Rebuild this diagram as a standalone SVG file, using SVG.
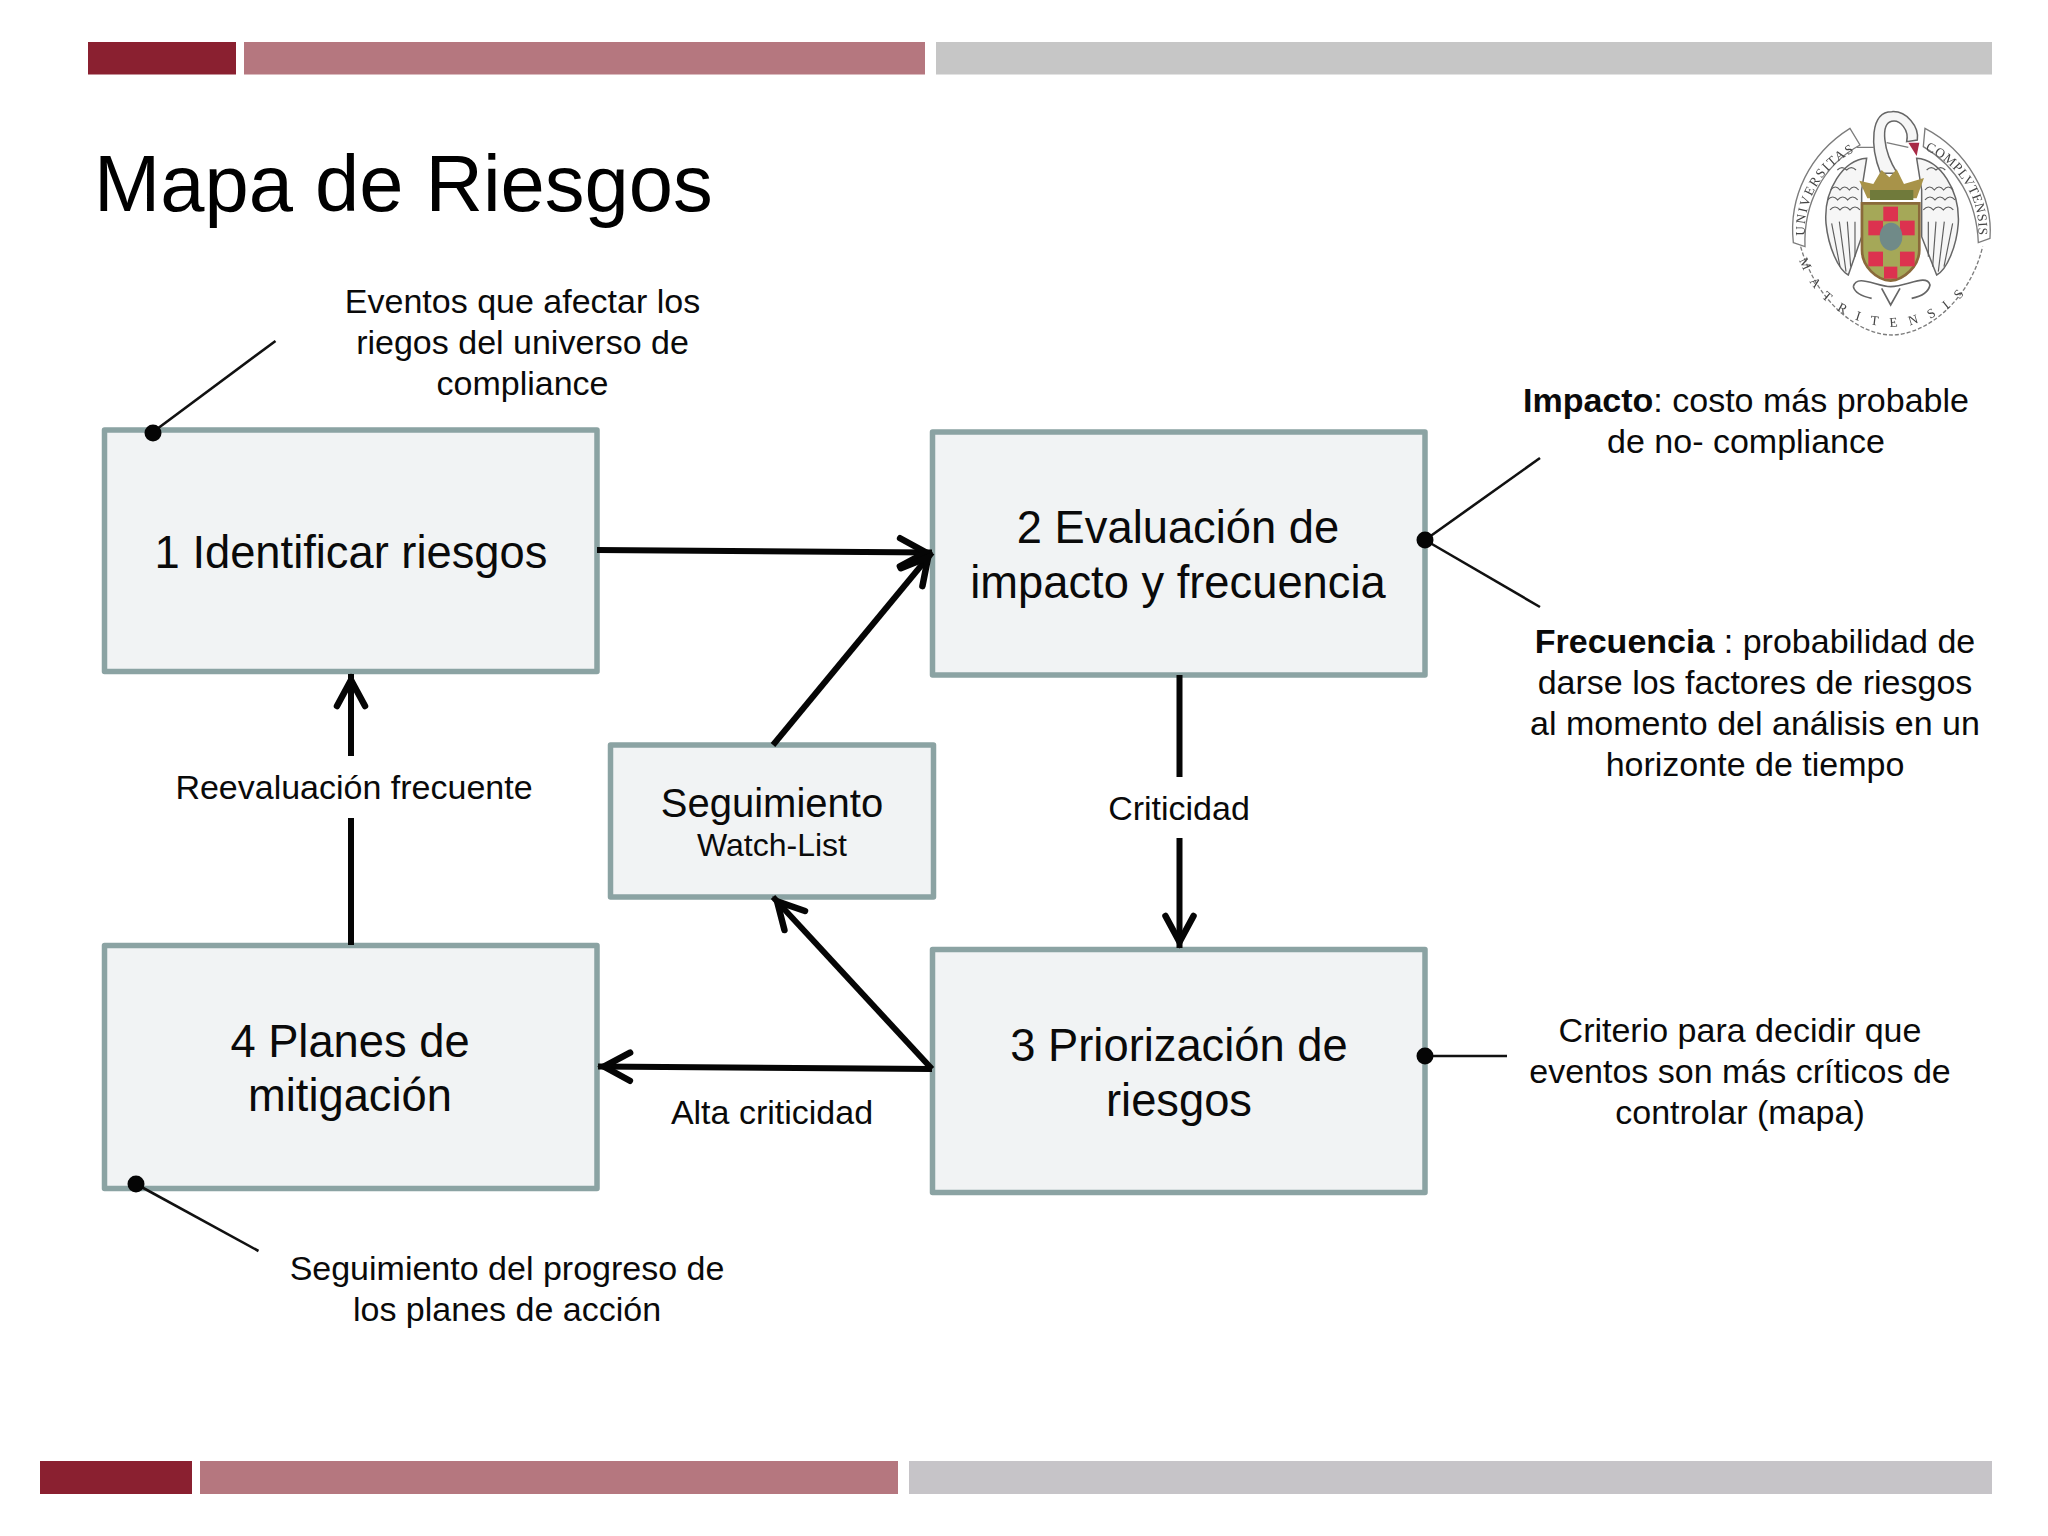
<svg xmlns="http://www.w3.org/2000/svg" width="2048" height="1536" viewBox="0 0 2048 1536">
<style>
text{font-family:"Liberation Sans",Arial,sans-serif;fill:#0a0a0a;text-anchor:middle}
.box{fill:#f1f3f4;stroke:#8ba3a3;stroke-width:5.5;stroke-linejoin:round}
.big{font-size:45.3px}.lab{font-size:34px}
.con{stroke:#050505;stroke-width:6;fill:none}
.lead{stroke:#111;stroke-width:2.6;fill:none}
.bg{fill:#fff}
.ln{fill:none;stroke:#7c7c7c;stroke-width:4}
.fe{fill:none;stroke:#5f5f5f;stroke-width:3.5}
.lt{font-family:"Liberation Serif",serif;font-size:40px;fill:#444;text-anchor:start}
.bird{fill:#f6f6f6;stroke:#666;stroke-width:4.5}
</style>
<defs>
<marker id="arr" markerUnits="userSpaceOnUse" markerWidth="40" markerHeight="40" refX="36" refY="20" orient="auto" overflow="visible">
<path d="M4 6 L30 20 L4 34" fill="none" stroke="#050505" stroke-width="6.5" stroke-linecap="round" stroke-linejoin="miter"/>
</marker>
<path id="arcL" d="M135 437 A260 260 0 0 1 300 178"/>
<path id="arcR" d="M495 180 A260 260 0 0 1 655 435"/>
<path id="arcB" d="M118 510 A292 292 0 0 0 672 510"/>
<filter id="soft" x="-5%" y="-5%" width="110%" height="110%"><feGaussianBlur stdDeviation="1.6"/></filter>
</defs>
<rect width="2048" height="1536" fill="#fff"/>
<g id="top-bar">
<rect x="88" y="42" width="148" height="32.5" fill="#8a2030"/>
<rect x="244" y="42" width="681" height="32.5" fill="#b5777f"/>
<rect x="936" y="42" width="1056" height="32.5" fill="#c6c6c6"/>
</g>
<g id="bottom-bar">
<rect x="40" y="1461" width="152" height="33" fill="#8a2030"/>
<rect x="200" y="1461" width="698" height="33" fill="#b5777f"/>
<rect x="909" y="1461" width="1083" height="33" fill="#c6c4c8"/>
</g>
<text id="title" x="94" y="211" style="text-anchor:start;font-size:79.5px;fill:#000">Mapa de Riesgos</text>
<g id="logo" transform="translate(1760 90) scale(.3333)" filter="url(#soft)">
<path class="ln" d="M100 458 L135 470 C130 340 190 225 300 165 L270 115 C150 190 85 320 100 458 Z"/>
<path class="ln" d="M690 445 L655 458 C650 330 590 230 490 170 L495 115 C620 180 700 320 690 445 Z"/>
<path class="ln" stroke-dasharray="12 6" d="M122 470 C170 640 300 735 395 735 C500 735 630 630 668 470"/>
<text class="lt" style="letter-spacing:5px"><textPath href="#arcL">UNIVERSITAS</textPath></text>
<text class="lt" style="letter-spacing:2px"><textPath href="#arcR">COMPLVTENSIS</textPath></text>
<text class="lt" style="letter-spacing:35px"><textPath href="#arcB">MATRITENSIS</textPath></text>
<path class="bird" d="M362 250 C330 170 330 65 395 65 C440 62 478 110 472 150 L440 155 C448 120 420 88 395 94 C362 102 368 180 412 250 Z"/>
<path class="ln" d="M290 172 L345 172 M380 158 L445 172"/>
<path d="M445 158 L478 158 L470 198 Z" fill="#a82a45"/>
<path class="bird" d="M320 205 C250 210 190 300 198 400 C205 470 235 540 265 555 L305 440 L305 300 Z"/>
<path class="bird" d="M470 205 C540 210 600 300 595 400 C590 470 560 540 530 555 L485 440 L485 300 Z"/>
<path class="fe" d="M212 300 q14 -18 28 0 q14 -18 28 0 q14 -18 28 0 M203 330 q15 -18 30 0 q15 -18 30 0 q15 -18 30 0 M210 360 q15 -18 30 0 q15 -18 30 0 q15 -18 30 0 M232 240 q14 -14 28 0 q14 -14 28 0 M215 400 L240 530 M238 395 L258 545 M262 395 L272 530 M285 395 L285 500"/>
<path class="fe" d="M495 300 q14 -18 28 0 q14 -18 28 0 q14 -18 28 0 M495 330 q15 -18 30 0 q15 -18 30 0 q15 -18 30 0 M490 360 q15 -18 30 0 q15 -18 30 0 q15 -18 30 0 M500 240 q14 -14 28 0 q14 -14 28 0 M578 400 L552 530 M553 395 L535 545 M528 395 L518 530 M505 395 L505 500"/>
<path d="M298 272 L340 282 L365 240 L388 262 L410 238 L432 282 L492 264 L470 325 L322 325 Z" fill="#a8934a"/>
<path d="M330 300 h130 v30 h-130z" fill="#6f7a3a"/>
<path d="M306 340 H478 V480 C478 530 430 570 392 572 C350 570 306 530 306 480 Z" fill="#a5a858" stroke="#8a6a3a" stroke-width="8"/>
<g fill="#dc3050">
<rect x="370" y="350" width="44" height="44"/><rect x="325" y="392" width="44" height="44"/><rect x="420" y="392" width="44" height="44"/>
<rect x="325" y="485" width="44" height="44"/><rect x="420" y="485" width="44" height="44"/><rect x="372" y="530" width="40" height="36"/>
</g>
<ellipse cx="393" cy="440" rx="34" ry="42" fill="#6f8a88"/>
<path d="M280 590 C290 550 350 590 392 590 C440 590 500 550 510 585 C505 610 480 620 455 625 M280 590 C285 610 310 620 335 625 M365 595 L392 645 L420 595" fill="none" stroke="#666" stroke-width="5"/>
</g>
<g id="node-1"><rect class="box" x="104.500" y="430" width="492.500" height="241.500"/><text class="big" x="351" y="568">1 Identificar riesgos</text></g>
<g id="node-2"><rect class="box" x="932.500" y="432" width="492.500" height="243"/><text class="big"><tspan x="1178" y="543">2 Evaluación de</tspan><tspan x="1178" y="598">impacto y frecuencia</tspan></text></g>
<g id="node-3"><rect class="box" x="932.500" y="949.500" width="492.500" height="243"/><text class="big"><tspan x="1179" y="1061">3 Priorización de</tspan><tspan x="1179" y="1116">riesgos</tspan></text></g>
<g id="node-4"><rect class="box" x="104.500" y="945.500" width="492.500" height="243"/><text class="big"><tspan x="350" y="1057">4 Planes de</tspan><tspan x="350" y="1111">mitigación</tspan></text></g>
<g id="node-seguimiento"><rect class="box" x="610.500" y="745" width="323" height="152"/><text x="772" y="817" font-size="40">Seguimiento</text><text x="772" y="856" font-size="32">Watch-List</text></g>
<g id="connectors">
<path class="con" marker-end="url(#arr)" d="M597 550 L932 552.500"/>
<path class="con" marker-end="url(#arr)" d="M1179.500 675 L1179.500 948"/>
<path class="con" marker-end="url(#arr)" d="M932 1069 L598 1066.500"/>
<path class="con" marker-end="url(#arr)" d="M932 1069 L773 897"/>
<path class="con" marker-end="url(#arr)" d="M773 745 L932 552.500"/>
<path class="con" marker-end="url(#arr)" d="M351 945 L351 674"/>
<path class="lead" d="M153 432 L275.500 341"/>
<path class="lead" d="M1425 540 L1540 458"/>
<path class="lead" d="M1425 540 L1540 607"/>
<path class="lead" d="M1425 1056 L1507 1056"/>
<path class="lead" d="M136 1184 L258.500 1251"/>
</g>
<g id="label-reevaluacion"><rect class="bg" x="170" y="756" width="370" height="62"/><text class="lab" x="354" y="799">Reevaluación frecuente</text></g>
<g id="label-criticidad"><rect class="bg" x="1100" y="777" width="160" height="61"/><text class="lab" x="1179" y="820">Criticidad</text></g>
<g id="dots" fill="#050505">
<circle cx="153" cy="433" r="8.500"/><circle cx="1425" cy="540" r="8.500"/><circle cx="1425" cy="1056" r="8.500"/><circle cx="136" cy="1184" r="8.500"/>
</g>
<g id="labels">
<text class="lab" x="772" y="1124">Alta criticidad</text>
<text class="lab"><tspan x="522.500" y="313">Eventos que afectar los</tspan><tspan x="522.500" y="354">riegos del universo de</tspan><tspan x="522.500" y="395">compliance</tspan></text>
<text class="lab"><tspan x="1746" y="412"><tspan font-weight="bold">Impacto</tspan>: costo más probable</tspan><tspan x="1746" y="453">de no- compliance</tspan></text>
<text class="lab"><tspan x="1755" y="653"><tspan font-weight="bold">Frecuencia </tspan>: probabilidad de</tspan><tspan x="1755" y="694">darse los factores de riesgos</tspan><tspan x="1755" y="735">al momento del análisis en un</tspan><tspan x="1755" y="776">horizonte de tiempo</tspan></text>
<text class="lab"><tspan x="1740" y="1042">Criterio para decidir que</tspan><tspan x="1740" y="1083">eventos son más críticos de</tspan><tspan x="1740" y="1124">controlar (mapa)</tspan></text>
<text class="lab"><tspan x="507" y="1280">Seguimiento del progreso de</tspan><tspan x="507" y="1321">los planes de acción</tspan></text>
</g>
</svg>
